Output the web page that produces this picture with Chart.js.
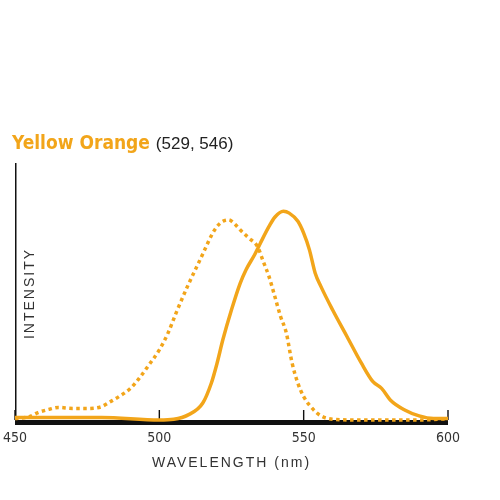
<!DOCTYPE html><html><head><script src="https://cdn.jsdelivr.net/npm/chart.js@4"></script>
<style>body{margin:0;background:#fff}</style></head><body><canvas id="c" width="500" height="500" style="width:500px;height:500px"></canvas>
<script>
const solidX=[450,480,500,505,510,515,518,520,522,525,528,530,533,535,538,540,543,545,548,550,552,554,556,560,565,570,574,577,580,585,590,595,600];
const solidY=[1.0,1.0,0,0.3,2.0,6.5,14.3,22.1,31.2,42.9,53.2,58.4,64.3,68.8,75.3,78.9,81.2,80.5,77.3,72.7,66.2,57.1,51.9,42.9,32.5,22.1,14.9,12.3,7.8,3.9,1.6,0.6,0.6];
const dotX=[450,455,458,462,465,470,475,480,483,486,490,493,496,500,503,506,510,513,516,518,520,522,524,526,528,531,534,536,538,540,542,544,546,548,550,553,556,560,570,580,590,600];
const dotY=[0.6,1.3,2.9,4.2,4.9,4.5,4.5,5.2,7.1,9.1,12.3,16.2,20.8,27.3,33.8,42.2,52.6,59.7,66.9,71.7,75.3,77.3,77.9,76.4,74,70.8,67.5,61.7,55.8,48.1,40.3,33.8,22.1,14.3,9.1,4.5,1.6,0.3,0,0,0,0.5];
const xTicks=[450,500,550,600];
const C='#F2A51A';
const deco={id:'deco',beforeDatasetsDraw(ch){const c=ch.ctx,x=ch.scales.x,y=ch.scales.y;c.save();
 c.fillStyle='#111';c.fillRect(x.left,y.bottom,x.right-x.left,5);
 c.fillRect(x.left,y.top,1.5,y.bottom-y.top);
 xTicks.forEach(t=>{const px=x.getPixelForValue(t);c.fillRect(px-0.7,y.bottom-10,1.4,10);});
 c.font='14px "Liberation Sans Narrow", "DejaVu Sans Condensed", sans-serif';c.fillStyle='#333';c.textAlign='center';c.textBaseline='middle';
 xTicks.forEach(t=>c.fillText(t,x.getPixelForValue(t),438));
 c.font='14px "Liberation Sans", sans-serif';
 c.letterSpacing='2px';c.fillText('WAVELENGTH (nm)',(x.left+x.right)/2,463);
 c.translate(30,(y.top+y.bottom)/2+2);c.rotate(-Math.PI/2);c.fillText('INTENSITY',0,0);
 c.restore();c.save();
 c.textBaseline='middle';c.textAlign='left';c.font='bold 19px "Liberation Sans Narrow", "DejaVu Sans Condensed", sans-serif';c.fillStyle=C;c.fillText('Yellow Orange',12,144);
 const w=c.measureText('Yellow Orange ').width;c.font='17px "Liberation Sans Narrow", sans-serif';c.fillStyle='#222';c.fillText('(529, 546)',12+w,144);c.restore();}};
new Chart(document.getElementById('c'),{type:'line',data:{datasets:[
 {data:solidX.map((v,i)=>({x:v,y:solidY[i]})),borderColor:C,borderWidth:3.5,pointRadius:0,cubicInterpolationMode:'monotone',clip:false},
 {data:dotX.map((v,i)=>({x:v,y:dotY[i]})),borderColor:C,borderWidth:3.5,borderDash:[3.5,3.5],pointRadius:0,cubicInterpolationMode:'monotone',clip:false}]},
 options:{responsive:false,animation:false,events:[],layout:{padding:{left:15,right:52,top:163,bottom:80}},
 plugins:{legend:{display:false},tooltip:{enabled:false}},
 scales:{x:{type:'linear',min:450,max:600,display:false},y:{min:0,max:100,display:false}}},plugins:[deco]});
</script></body></html>
